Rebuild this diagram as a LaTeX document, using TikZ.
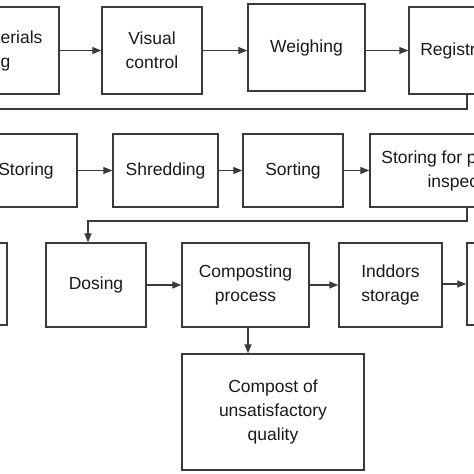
\documentclass[tikz,border=0pt]{standalone}
\usepackage{fontspec}
\setmainfont{Liberation Sans}
\usetikzlibrary{arrows.meta}
\definecolor{boxc}{HTML}{3A3A3A}
\definecolor{txtc}{HTML}{1A1A1A}
\begin{document}
\begin{tikzpicture}[x=1pt,y=-1pt,
  box/.style={draw=boxc, line width=1.4pt, fill=white, inner sep=0pt, align=center,
    text=txtc, font=\fontsize{17.5}{24}\selectfont},
  flow/.style={draw=boxc, line width=1.3pt, -{Triangle[length=9pt,width=7pt]}},
  link/.style={draw=boxc, line width=1.3pt}]
\useasboundingbox (0,0) rectangle (474,474);
\clip (0,0) rectangle (474,474);
% row 1
\node[box, minimum width=144pt, minimum height=87pt] (raw) at (-13,50.5) {Raw materials\\taking};
\node[box, minimum width=100pt, minimum height=87pt] (visual) at (152,50.5) {Visual\\control};
\node[box, minimum width=117pt, minimum height=87pt] (weigh) at (306.5,47.5) {Weighing};
\node[box, minimum width=116pt, minimum height=87pt] (reg) at (467,50.5) {Registration};
% row 2
\node[box, minimum width=102pt, minimum height=73pt] (store) at (26,170.5) {Storing};
\node[box, minimum width=105pt, minimum height=73pt] (shred) at (165.5,170.5) {Shredding};
\node[box, minimum width=100pt, minimum height=73pt] (sort) at (293,170.5) {Sorting};
\node[box, minimum width=194pt, minimum height=73pt] (insp) at (467,170.5) {Storing for preliminary\\inspection};
% row 3
\node[box, minimum width=97pt, minimum height=82pt] (leftb) at (-41.5,284) {};
\node[box, minimum width=100pt, minimum height=84pt] (dose) at (96,285) {Dosing};
\node[box, minimum width=127pt, minimum height=84pt] (comp) at (245.5,285) {Composting\\process};
\node[box, minimum width=103pt, minimum height=84pt] (indoor) at (390.5,285) {Inddors\\storage};
\node[box, minimum width=103pt, minimum height=82pt] (rightb) at (518.5,284) {};
% row 4
\node[box, minimum width=182pt, minimum height=116pt] (bad) at (273,412) {Compost of\\unsatisfactory\\quality};
% connectors
\draw[flow] (raw.east |- visual.west) -- (visual.west);
\draw[flow] (visual.east) -- (visual.east -| weigh.west);
\draw[flow] (weigh.east |- reg.west) -- (reg.west);
\coordinate (c1) at (-120,109);
\draw[link] (reg.south) |- (c1);
\draw[flow] (store) -- (shred);
\draw[flow] (shred) -- (sort);
\draw[flow] (sort) -- (insp);
\coordinate (d1) at (88,221);
\draw[flow] (insp.south) |- (d1) -- (d1 |- dose.north);
\draw[flow] (dose) -- (comp);
\draw[flow] (comp) -- (indoor);
\draw[flow] (indoor.east |- rightb.west) -- (rightb.west);
\coordinate (e1) at (248,327);
\draw[flow] (e1) -- (e1 |- bad.north);
\end{tikzpicture}
\end{document}
